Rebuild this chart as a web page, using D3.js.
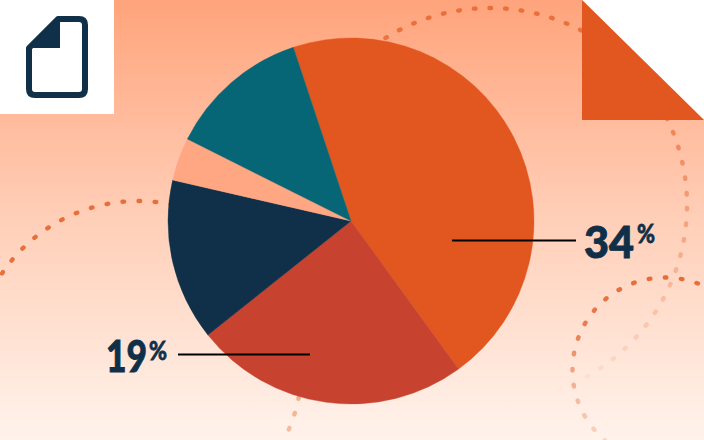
<!DOCTYPE html>
<html>
<head>
<meta charset="utf-8" />
<script src="https://d3js.org/d3.v7.min.js"></script>
<style>
  html, body { margin: 0; padding: 0; background: #fff; }
  svg { display: block; }
  text { font-family: Lato, sans-serif; font-weight: 900; fill: #0f3048; stroke: #0f3048; stroke-width: 0.9; }
</style>
</head>
<body>
<div id="chart"></div>
<script>
  // share of each slice (clockwise from the big orange one)
  const slices = ["orange", "red", "navy", "peach", "teal"];
  const shares = [45.1, 24.3, 14.3, 3.8, 12.5];
  const sliceColors = ["#e2561f", "#c8432f", "#0f3048", "#ffa783", "#066675"];

  const labelValues = ["34", "19"];

  const width = 704, height = 440;
  const deg = Math.PI / 180;

  const svg = d3.select("#chart").append("svg")
    .attr("width", width)
    .attr("height", height);

  const defs = svg.append("defs");

  const bg = defs.append("linearGradient").attr("id", "bg")
    .attr("x1", 0.5).attr("y1", 0).attr("x2", 0.5).attr("y2", 1);
  bg.append("stop").attr("offset", 0).attr("stop-color", "#ffa47c");
  bg.append("stop").attr("offset", 0.5).attr("stop-color", "#ffcfb8");
  bg.append("stop").attr("offset", 1).attr("stop-color", "#fff3ec");

  svg.append("rect").attr("width", width).attr("height", height).attr("fill", "url(#bg)");

  // dotted circles behind the pie, each fades out going down
  const fade = (id, stops) => {
    const g = defs.append("linearGradient").attr("id", id)
      .attr("gradientUnits", "userSpaceOnUse")
      .attr("x1", 0).attr("x2", 0).attr("y1", 0).attr("y2", height);
    stops.forEach(s => g.append("stop")
      .attr("offset", s[0] / height)
      .attr("stop-color", "#e5642c")
      .attr("stop-opacity", s[1]));
  };
  fade("fadeA", [[0, 0.85], [120, 0.65], [200, 0.45], [280, 0.3], [360, 0.12], [395, 0]]);
  fade("fadeB", [[190, 0.9], [280, 0.9], [400, 0.45], [440, 0.35]]);
  fade("fadeC", [[270, 0.95], [330, 0.8], [380, 0.45], [440, 0.2]]);

  const circles = [
    {cx: 490, cy: 205, r: 197, period: 15.67, offset: -2.9, stroke: "url(#fadeA)"},
    {cx: 138, cy: 365, r: 164, period: 16.1, offset: -0.3, stroke: "url(#fadeB)"},
    {cx: 665, cy: 370, r: 92.5, period: 16.14, offset: 0.8, stroke: "url(#fadeC)"}
  ];
  svg.append("g")
    .selectAll("circle")
    .data(circles)
    .join("circle")
      .attr("cx", d => d.cx)
      .attr("cy", d => d.cy)
      .attr("r", d => d.r)
      .attr("fill", "none")
      .attr("stroke", d => d.stroke)
      .attr("stroke-width", 4.4)
      .attr("stroke-linecap", "round")
      .attr("stroke-dasharray", d => `1.6 ${d.period - 1.6}`)
      .attr("stroke-dashoffset", d => d.offset);

  // corner pieces
  svg.append("rect").attr("width", 114).attr("height", 114).attr("fill", "#fff");
  svg.append("path").attr("d", "M582,0H704V120Z").attr("fill", "#fff");
  svg.append("path").attr("d", "M582,0L704,120H582Z").attr("fill", "#e2561f");

  // document icon
  const icon = svg.append("g");
  icon.append("path")
    .attr("d", "M58,19H79Q85,19 85,25V89Q85,95 79,95H35Q29,95 29,89V48Z")
    .attr("fill", "#fff")
    .attr("stroke", "#0f3048")
    .attr("stroke-width", 6)
    .attr("stroke-linejoin", "round");
  icon.append("path")
    .attr("d", "M60,19V48H29Z")
    .attr("fill", "#0f3048");

  // pie
  const pie = d3.pie().sort(null)
    .startAngle(-18.4 * deg)
    .endAngle(341.6 * deg);
  const arc = d3.arc().innerRadius(0).outerRadius(183);

  svg.append("g")
    .attr("transform", "translate(351,221)")
    .selectAll("path")
    .data(pie(shares))
    .join("path")
      .attr("d", arc)
      .attr("fill", (d, i) => sliceColors[i])
      .attr("stroke", (d, i) => sliceColors[i])
      .attr("stroke-width", 0.4);

  // leader lines and labels, the % sign is a tspan of the same text
  const labels = [
    {x1: 452, x2: 576, y: 240.5, tx: 584, ty: 258, tw: 50, px: 637, py: 243},
    {x1: 178, x2: 310, y: 354.5, tx: 106, ty: 372, tw: 41, px: 149, py: 360}
  ];
  labels.forEach((l, i) => {
    svg.append("line")
      .attr("x1", l.x1).attr("x2", l.x2)
      .attr("y1", l.y).attr("y2", l.y)
      .attr("stroke", "#000")
      .attr("stroke-width", 2);
    const t = svg.append("text");
    t.append("tspan")
      .attr("x", l.tx).attr("y", l.ty)
      .attr("textLength", l.tw)
      .attr("lengthAdjust", "spacingAndGlyphs")
      .style("font-size", "43px")
      .text(labelValues[i]);
    t.append("tspan")
      .attr("x", l.px).attr("y", l.py)
      .attr("textLength", 18)
      .attr("lengthAdjust", "spacingAndGlyphs")
      .style("font-size", "26px")
      .style("font-weight", 700)
      .text("%");
  });
</script>
</body>
</html>
